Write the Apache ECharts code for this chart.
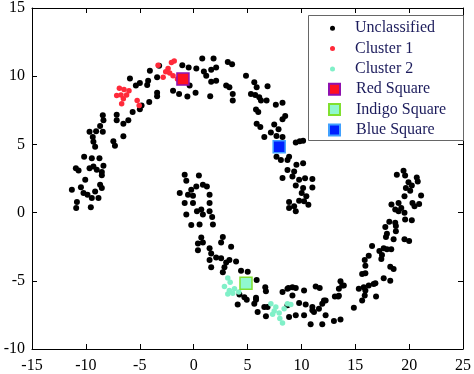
<!DOCTYPE html>
<html>
<head>
<meta charset="utf-8">
<script src="https://cdn.jsdelivr.net/npm/echarts@6/dist/echarts.min.js"></script>
<style>html,body{margin:0;padding:0;background:#fff}#c{width:474px;height:374px}</style>
</head>
<body>
<div id="c"></div>
<script>
var unclassified = [
[0.80,11.29],[1.85,11.29],[-3.2,10.76],[-4.06,10.40],[-1.05,10.81],[-0.46,10.64],[0.25,10.57],[0.95,10.35],[1.63,10.47],[2.09,10.64],
[-5.91,9.84],[-4.22,9.67],[-4.99,9.50],[-5.36,9.31],[-4.31,9.36],[-3.39,9.92],[1.17,10.04],[1.63,9.60],[2.09,9.67],[-0.37,9.31],
[-1.91,8.94],[-1.35,8.70],[-0.58,8.51],[0.18,8.78],[1.54,8.53],[-3.39,8.78],[-3.39,8.53],[-4.12,8.1],[-4.83,7.86],[-4.99,7.57],
[-5.66,7.37],[-6.06,6.77],[-6.52,6.52],[-7.14,7.18],[-7.14,6.77],[-8.43,7.13],[-8.37,6.77],[-8.68,6.35],[-8.43,5.92],[-9.05,5.97],
[-9.66,5.92],[-9.36,5.55],[-9.30,5.19],[-9.14,4.83],[-7.45,5.24],[-7.3,4.90],[-6.52,5.60],[-10.16,4.10],[-9.45,3.98],[-8.74,3.98],
[-8.37,3.43],[-9.30,3.38],[-9.66,3.26],[-8.99,3.14],[-8.52,2.97],[-8.52,2.73],[-10.93,3.26],[-10.68,3.09],[-10.06,2.41],[-11.3,1.68],
[-10.46,1.85],[-10.22,1.43],[-9.85,1.31],[-9.45,1.07],[-8.83,1.07],[-8.68,2.04],[-8.52,1.80],[-10.83,0.78],[-10.9,0.34],[-9.54,0.39],[-9.14,1.55],
[3.17,11.05],[3.57,10.88],[3.02,9.31],[3.32,9.19],[3.63,8.70],[3.63,8.22],[4.86,10.03],[5.63,9.55],[5.85,9.19],[6.86,9.26],
[5.32,8.70],[5.72,8.63],[6.09,8.46],[6.25,8.22],[6.77,8.22],[7.63,7.90],[8.25,8.05],[5.79,7.56],[6.0,7.37],[8.5,7.08],
[8.25,6.84],[5.85,6.52],[6.19,6.28],[7.48,6.45],[7.88,6.11],[7.17,5.87],[7.69,5.62],[8.25,5.55],[6.56,5.55],[9.48,5.14],
[9.85,5.24],[10.16,5.26],[7.69,4.10],[8.1,3.86],[8.71,3.86],[8.86,4.10],[9.54,3.50],[10.16,3.62],[8.71,3.13],[9.33,3.01],
[8.25,2.53],[9.17,2.65],[9.79,2.40],[10.34,2.52],[11.02,2.47],[10.16,1.80],[9.48,1.99],[11.02,1.84],[10.03,1.43],[10.46,1.19],
[8.86,0.78],[9.33,0.47],[9.79,0.87],[10.25,0.83],[10.65,0.58],[9.48,0.10],[8.86,0.34],
[-0.83,2.77],[0.49,2.72],[-0.68,2.33],[0.86,2.04],[0.25,1.92],[1.23,1.92],[-0.22,1.68],[-1.29,1.43],[-0.52,1.31],[-0.06,1.24],
[1.48,1.31],[-0.83,0.71],[-0.06,0.71],[1.48,0.71],[-0.68,-0.14],[0.31,0.10],[0.71,0.22],[0.86,-0.14],[1.48,0.10],[1.72,-0.33],
[-0.22,-0.91],[0.55,-0.87],[1.79,-0.87],[0.71,-1.83],[2.71,-1.78],[0.40,-2.27],[0.86,-2.20],[2.55,-2.20],[3.48,-2.51],[0.40,-2.76],
[1.48,-2.61],[1.63,-2.99],[2.09,-3.29],[2.55,-3.34],[1.48,-3.48],[3.32,-3.48],[3.94,-3.58],[3.02,-3.65],[1.63,-4.0],[2.86,-4.0],
[4.4,-4.27],[5.02,-4.33],[2.71,-4.38],[5.85,-4.94],[6.65,-5.47],[6.71,-5.76],[4.25,-6.0],[4.71,-6.20],[4.93,-6.39],[5.79,-6.24],
[5.63,-6.68],[4.09,-6.73],[8.25,-5.83],[8.71,-5.59],[9.17,-5.47],[9.48,-5.52],[10.25,-5.72],[11.33,-5.42],[9.17,-6.08],[8.71,-6.8],
[9.79,-6.63],[10.4,-6.73],[11.02,-6.92],[11.17,-7.29],[5.94,-7.29],[6.71,-7.6],[6.86,-6.92],[8.86,-7.65],[9.48,-7.53],[10.25,-7.53],[10.86,-8.18],
[18.86,2.77],[19.48,3.06],[19.63,2.72],[20.71,2.57],[20.8,2.28],[19.94,2.23],[20.25,1.99],[19.7,1.80],[21.11,1.26],[20.1,1.60],
[19.57,1.19],[18.36,0.59],[19.02,0.71],[19.27,0.34],[18.71,0.22],[20.31,0.71],[20.5,0.47],[20.93,0.63],[19.57,-0.02],[19.02,0.10],
[19.63,-0.50],[20.25,-0.57],[18.16,-0.67],[18.71,-0.74],[18.77,-0.98],[17.79,-1.06],[18.77,-1.36],[17.94,-1.55],[17.85,-1.79],[18.56,-1.96],
[19.57,-1.96],[20.0,-2.08],[16.56,-2.44],[17.24,-2.81],[17.64,-2.61],[17.94,-2.68],[18.34,-2.68],[17.48,-3.1],[17.42,-3.41],[16.25,-3.17],
[15.88,-3.48],[15.94,-3.89],[18.25,-3.97],[18.56,-4.14],[15.64,-4.5],[15.94,-4.45],[17.64,-4.81],[18.25,-4.99],[15.33,-5.59],[15.79,-5.47],
[16.25,-5.35],[16.71,-5.23],[15.94,-5.72],[16.87,-5.18],[15.88,-6.08],[16.93,-6.15],[15.64,-6.45],[14.87,-6.97],[13.63,-5.03],[13.79,-5.35],
[13.48,-5.59],[13.11,-6.15],[13.42,-6.15],[11.94,-6.68],[12.1,-6.45],[11.63,-7.05],[12.25,-7.53],[11.94,-8.18],[13.02,-7.94],[13.63,-7.84],
[6.56,-6.92],[5.79,-6.39],[12.25,-6.44],[13.48,-6.09],[11.02,-7.16],[8.8,-5.52],[13.94,-5.35],[11.7,-5.52]
];
var cluster1 = [
[-6.89,9.11],[-6.46,9.02],[-6.0,8.94],[-7.14,8.58],[-6.74,8.63],[-6.52,8.34],[-6.68,7.98],[-6.22,8.63],[-5.24,8.22],[-5.05,7.86],
[-1.8,11.12],[-2.06,11.0],[-2.37,10.57],[-2.59,10.33],[-2.83,9.92],[-2.22,10.23],[-1.91,10.04],[-3.3,10.8],[-1.5,9.8]
];
var cluster2 = [
[3.17,-4.79],[3.39,-5.11],[2.86,-5.42],[3.32,-5.72],[3.79,-5.59],[3.17,-5.96],[3.63,-5.91],[4.19,-5.83],
[7.17,-6.68],[7.63,-6.92],[7.48,-7.22],[7.94,-7.36],[8.4,-7.05],[8.71,-6.68],[8.0,-7.77],[8.25,-8.09],[9.02,-6.73],[7.33,-7.46]
];
var redSquare = [[-0.99,9.79]];
var indigoSquare = [[4.86,-5.18]];
var blueSquare = [[7.94,4.83]];
var xTicks = {min:-15, max:25, step:5};
var yTicks = {min:-10, max:15, step:5};

var serif = "'Liberation Serif', 'DejaVu Serif', serif";
var chart = echarts.init(document.getElementById('c'), null, {renderer:'canvas'});
function xa(pos, labels){
  return {type:'value', position:pos, min:xTicks.min, max:xTicks.max, interval:xTicks.step,
    axisLine:{show:true, onZero:false, lineStyle:{color:'#000', width:1}},
    axisTick:{show:true, inside:true, length:5, lineStyle:{color:'#000'}},
    axisLabel:{show:labels, fontFamily:serif, fontSize:16, color:'#000', margin:9},
    splitLine:{show:false}};
}
function ya(pos, labels){
  return {type:'value', position:pos, min:yTicks.min, max:yTicks.max, interval:yTicks.step,
    axisLine:{show:true, onZero:false, lineStyle:{color:'#000', width:1}},
    axisTick:{show:true, inside:true, length:5, lineStyle:{color:'#000'}},
    axisLabel:{show:labels, fontFamily:serif, fontSize:16, color:'#000', margin:7},
    splitLine:{show:false}};
}
var legText = {fontFamily:serif, fontSize:16, color:'#1c1c5c', lineHeight:20.4};
chart.setOption({
  animation:false,
  grid:{left:32, right:8, top:5, bottom:25},
  xAxis:[xa('bottom', true), xa('top', false)],
  yAxis:[ya('left', true), ya('right', false)],
  graphic:[{type:'rect', z:3, shape:{x:308.5, y:15.5, width:155, height:125}, style:{fill:'#fff', stroke:'#666', lineWidth:1}}],
  legend:[
    {data:['Unclassified','Cluster 1','Cluster 2'], orient:'vertical', left:330, top:18, padding:0, itemWidth:5, itemHeight:5, itemGap:0, icon:'circle', selectedMode:false,
     textStyle:Object.assign({padding:[0,0,0,15]}, legText)},
    {data:['Red Square','Indigo Square','Blue Square'], orient:'vertical', left:328, top:79, padding:0, itemWidth:11, itemHeight:11, itemGap:0, icon:'rect', selectedMode:false,
     textStyle:Object.assign({padding:[0,0,0,11]}, legText)}
  ],
  series:[
    {name:'Unclassified', type:'scatter', data:unclassified, symbol:'circle', symbolSize:6, itemStyle:{color:'#000', opacity:1}},
    {name:'Cluster 1', type:'scatter', data:cluster1, symbol:'circle', symbolSize:5.5, itemStyle:{color:'#ff2a3a', opacity:1}},
    {name:'Cluster 2', type:'scatter', data:cluster2, symbol:'circle', symbolSize:5.5, itemStyle:{color:'#80f0c8', opacity:1}},
    {name:'Red Square', type:'scatter', data:redSquare, symbol:'rect', symbolSize:12, itemStyle:{color:'#ff1020', borderColor:'#9010b0', borderWidth:1.5, opacity:1}},
    {name:'Indigo Square', type:'scatter', data:indigoSquare, symbol:'rect', symbolSize:12, itemStyle:{color:'#90f8d0', borderColor:'#80e030', borderWidth:1.5, opacity:1}},
    {name:'Blue Square', type:'scatter', data:blueSquare, symbol:'rect', symbolSize:12, itemStyle:{color:'#0020ff', borderColor:'#40a0ff', borderWidth:1.5, opacity:1}}
  ]
});
</script>
</body>
</html>
